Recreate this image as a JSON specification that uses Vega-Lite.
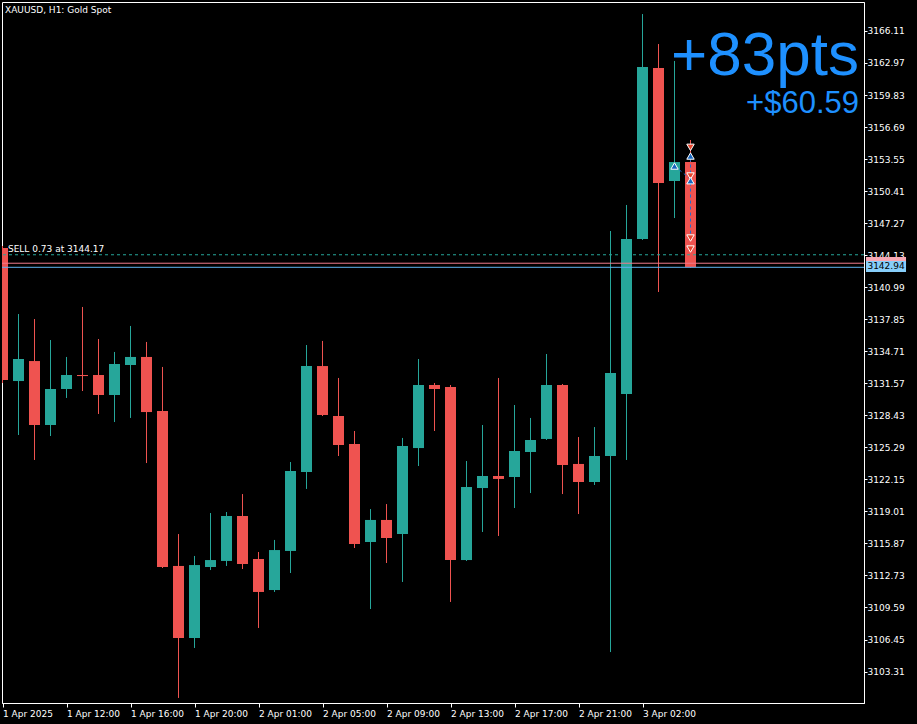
{
  "$schema": "https://vega.github.io/schema/vega-lite/v6.json",
  "autosize": "none",
  "width": 862,
  "height": 701,
  "padding": {"left": 2, "top": 2, "right": 53, "bottom": 21},
  "background": "#000000",
  "config": {
    "view": {"stroke": "#FFFFFF", "strokeWidth": 1, "fill": "#000000"},
    "axis": {"labelFont": "DejaVu Sans", "labelFontSize": 9, "labelColor": "#FFFFFF", "tickColor": "#FFFFFF", "domainColor": "#FFFFFF", "grid": false, "title": null}
  },
  "datasets": {
    "candles": [
      {"i":0,"o":3144.83,"h":3145.03,"l":3131.60,"c":3131.89,"d":"down"},
      {"i":1,"o":3131.79,"h":3138.36,"l":3126.50,"c":3133.95,"d":"up"},
      {"i":2,"o":3133.75,"h":3137.87,"l":3124.05,"c":3127.48,"d":"down"},
      {"i":3,"o":3127.48,"h":3135.81,"l":3126.40,"c":3131.01,"d":"up"},
      {"i":4,"o":3131.01,"h":3134.15,"l":3130.13,"c":3132.38,"d":"up"},
      {"i":5,"o":3132.38,"h":3139.05,"l":3130.81,"c":3132.28,"d":"down"},
      {"i":6,"o":3132.38,"h":3135.91,"l":3128.56,"c":3130.42,"d":"down"},
      {"i":7,"o":3130.42,"h":3134.64,"l":3127.77,"c":3133.46,"d":"up"},
      {"i":8,"o":3133.36,"h":3137.19,"l":3128.17,"c":3134.15,"d":"up"},
      {"i":9,"o":3134.15,"h":3135.62,"l":3123.75,"c":3128.75,"d":"down"},
      {"i":10,"o":3128.85,"h":3133.17,"l":3113.46,"c":3113.56,"d":"down"},
      {"i":11,"o":3113.66,"h":3116.79,"l":3100.72,"c":3106.60,"d":"down"},
      {"i":12,"o":3106.60,"h":3114.64,"l":3105.62,"c":3113.75,"d":"up"},
      {"i":13,"o":3113.56,"h":3118.85,"l":3113.26,"c":3114.24,"d":"up"},
      {"i":14,"o":3114.15,"h":3118.95,"l":3113.66,"c":3118.56,"d":"up"},
      {"i":15,"o":3118.56,"h":3120.71,"l":3113.36,"c":3113.85,"d":"down"},
      {"i":16,"o":3114.34,"h":3115.03,"l":3107.58,"c":3111.11,"d":"down"},
      {"i":17,"o":3111.30,"h":3116.21,"l":3111.11,"c":3115.22,"d":"up"},
      {"i":18,"o":3115.13,"h":3123.85,"l":3112.97,"c":3122.97,"d":"up"},
      {"i":19,"o":3122.87,"h":3135.32,"l":3121.21,"c":3133.26,"d":"up"},
      {"i":20,"o":3133.26,"h":3135.72,"l":3128.36,"c":3128.46,"d":"down"},
      {"i":21,"o":3128.36,"h":3132.09,"l":3124.44,"c":3125.52,"d":"down"},
      {"i":22,"o":3125.62,"h":3126.89,"l":3115.42,"c":3115.81,"d":"down"},
      {"i":23,"o":3116.01,"h":3119.24,"l":3109.44,"c":3118.17,"d":"up"},
      {"i":24,"o":3118.17,"h":3119.73,"l":3113.95,"c":3116.40,"d":"down"},
      {"i":25,"o":3116.79,"h":3126.21,"l":3112.09,"c":3125.42,"d":"up"},
      {"i":26,"o":3125.22,"h":3133.95,"l":3123.46,"c":3131.40,"d":"up"},
      {"i":27,"o":3131.40,"h":3131.60,"l":3126.89,"c":3131.01,"d":"down"},
      {"i":28,"o":3131.21,"h":3131.40,"l":3110.13,"c":3114.24,"d":"down"},
      {"i":29,"o":3114.24,"h":3123.95,"l":3114.15,"c":3121.40,"d":"up"},
      {"i":30,"o":3121.30,"h":3127.48,"l":3116.99,"c":3122.48,"d":"up"},
      {"i":31,"o":3122.48,"h":3132.09,"l":3116.60,"c":3122.19,"d":"down"},
      {"i":32,"o":3122.38,"h":3129.44,"l":3119.34,"c":3124.93,"d":"up"},
      {"i":33,"o":3124.83,"h":3128.17,"l":3120.81,"c":3126.01,"d":"up"},
      {"i":34,"o":3126.11,"h":3134.44,"l":3126.01,"c":3131.40,"d":"up"},
      {"i":35,"o":3131.40,"h":3131.50,"l":3120.71,"c":3123.56,"d":"down"},
      {"i":36,"o":3123.66,"h":3126.30,"l":3118.75,"c":3121.89,"d":"down"},
      {"i":37,"o":3121.89,"h":3127.28,"l":3121.60,"c":3124.44,"d":"up"},
      {"i":38,"o":3124.44,"h":3146.50,"l":3105.22,"c":3132.58,"d":"up"},
      {"i":39,"o":3130.52,"h":3149.05,"l":3124.05,"c":3145.71,"d":"up"},
      {"i":40,"o":3145.71,"h":3167.77,"l":3145.62,"c":3162.58,"d":"up"},
      {"i":41,"o":3162.48,"h":3164.83,"l":3140.52,"c":3151.20,"d":"down"},
      {"i":42,"o":3151.40,"h":3163.17,"l":3147.77,"c":3153.26,"d":"up"},
      {"i":43,"o":3153.26,"h":3155.42,"l":3142.90,"c":3142.94,"d":"down"}
    ],
    "trades": [
      {"i":43,"p":3154.70,"k":"sell"},
      {"i":43,"p":3153.85,"k":"buy"},
      {"i":42,"p":3152.87,"k":"buy"},
      {"i":43,"p":3151.89,"k":"sell"},
      {"i":43,"p":3151.43,"k":"buy"},
      {"i":43,"p":3145.81,"k":"sell"},
      {"i":43,"p":3144.73,"k":"sell"}
    ],
    "links": [
      {"i1":42,"p1":3152.87,"i2":43,"p2":3151.60},
      {"i1":43,"p1":3153.60,"i2":43,"p2":3146.00}
    ],
    "one": [{}]
  },
  "layer": [
    {
      "data": {"name": "candles"},
      "mark": {"type": "rule", "strokeWidth": 1, "clip": true},
      "encoding": {
        "x": {"field": "i", "type": "quantitative", "scale": {"domain": [-0.03125, 53.84375], "nice": false, "zero": false, "padding": 0},
          "axis": {"orient": "bottom", "values": [0,4,8,12,16,20,24,28,32,36,40], "tickCount": 30, "labelExpr": "['1 Apr 2025','1 Apr 12:00','1 Apr 16:00','1 Apr 20:00','2 Apr 01:00','2 Apr 05:00','2 Apr 09:00','2 Apr 13:00','2 Apr 17:00','2 Apr 21:00','3 Apr 02:00'][round(datum.value/4)]", "labelAlign": "left", "labelBaseline": "top", "labelPadding": 2, "tickSize": 4, "labelFlush": false, "labelOverlap": false, "labelBound": false}},
        "y": {"field": "l", "type": "quantitative", "scale": {"domain": [3100.225, 3168.95], "nice": false, "zero": false, "padding": 0},
          "axis": {"orient": "right", "values": [3103.31,3106.45,3109.59,3112.73,3115.87,3119.01,3122.15,3125.29,3128.43,3131.57,3134.71,3137.85,3140.99,3144.13,3147.27,3150.41,3153.55,3156.69,3159.83,3162.97,3166.11], "tickCount": 40, "format": ".2f", "tickSize": 3, "labelPadding": 0, "labelOverlap": false, "labelFlush": false}},
        "y2": {"field": "h"},
        "color": {"field": "d", "type": "nominal", "scale": {"domain": ["up","down"], "range": ["#26A69A","#EF5350"]}, "legend": null}
      }
    },
    {
      "data": {"name": "candles"},
      "mark": {"type": "bar", "width": 11, "clip": true},
      "encoding": {
        "x": {"field": "i", "type": "quantitative"},
        "y": {"field": "o", "type": "quantitative"},
        "y2": {"field": "c"},
        "color": {"field": "d", "type": "nominal", "legend": null}
      }
    },
    {
      "data": {"name": "one"},
      "mark": {"type": "rule", "color": "#26A69A", "strokeDash": [3,3], "strokeWidth": 1},
      "encoding": {"y": {"datum": 3144.17, "type": "quantitative"}}
    },
    {
      "data": {"name": "one"},
      "mark": {"type": "rule", "color": "#F07C8C", "strokeWidth": 1},
      "encoding": {"y": {"datum": 3143.34, "type": "quantitative"}}
    },
    {
      "data": {"name": "one"},
      "mark": {"type": "rule", "color": "#5FB4F0", "strokeWidth": 1},
      "encoding": {"y": {"datum": 3142.94, "type": "quantitative"}}
    },
    {
      "data": {"name": "links"},
      "mark": {"type": "rule", "color": "#1E6FD0", "strokeDash": [3,3], "strokeWidth": 1},
      "encoding": {
        "x": {"field": "i1", "type": "quantitative"},
        "y": {"field": "p1", "type": "quantitative"},
        "x2": {"field": "i2"},
        "y2": {"field": "p2"}
      }
    },
    {
      "data": {"name": "trades"},
      "transform": [{"filter": "datum.k == 'sell'"}],
      "mark": {"type": "point", "shape": "triangle-down", "filled": true, "size": 55, "color": "#E8452C", "stroke": "#FFFFFF", "strokeWidth": 1, "opacity": 1},
      "encoding": {
        "x": {"field": "i", "type": "quantitative"},
        "y": {"field": "p", "type": "quantitative"}
      }
    },
    {
      "data": {"name": "trades"},
      "transform": [{"filter": "datum.k == 'buy'"}],
      "mark": {"type": "point", "shape": "triangle-up", "filled": true, "size": 55, "color": "#1565C0", "stroke": "#FFFFFF", "strokeWidth": 1, "opacity": 1},
      "encoding": {
        "x": {"field": "i", "type": "quantitative"},
        "y": {"field": "p", "type": "quantitative"}
      }
    },
    {
      "data": {"name": "one"},
      "mark": {"type": "text", "text": "XAUUSD, H1:  Gold Spot", "font": "DejaVu Sans", "fontSize": 9, "color": "#FFFFFF", "align": "left", "baseline": "alphabetic"},
      "encoding": {"x": {"datum": 0.156, "type": "quantitative"}, "y": {"datum": 3167.87, "type": "quantitative"}}
    },
    {
      "data": {"name": "one"},
      "mark": {"type": "text", "text": "SELL 0.73 at 3144.17", "font": "DejaVu Sans", "fontSize": 9, "color": "#FFFFFF", "align": "left", "baseline": "alphabetic", "dy": -3},
      "encoding": {"x": {"datum": 0.34, "type": "quantitative"}, "y": {"datum": 3144.17, "type": "quantitative"}}
    },
    {
      "data": {"name": "one"},
      "mark": {"type": "text", "text": "+83pts", "font": "Liberation Sans", "fontSize": 62, "color": "#1E90FF", "align": "right", "baseline": "alphabetic"},
      "encoding": {"x": {"datum": 53.53, "type": "quantitative"}, "y": {"datum": 3161.80, "type": "quantitative"}}
    },
    {
      "data": {"name": "one"},
      "mark": {"type": "text", "text": "+$60.59", "font": "Liberation Sans", "fontSize": 31, "color": "#1E90FF", "align": "right", "baseline": "alphabetic"},
      "encoding": {"x": {"datum": 53.53, "type": "quantitative"}, "y": {"datum": 3158.07, "type": "quantitative"}}
    },
    {
      "data": {"name": "one"},
      "mark": {"type": "rect", "color": "#F7A8B4"},
      "encoding": {"x": {"datum": 53.97, "type": "quantitative"}, "x2": {"datum": 56.47}, "y": {"datum": 3143.95, "type": "quantitative"}, "y2": {"datum": 3142.87}}
    },
    {
      "data": {"name": "one"},
      "mark": {"type": "rect", "color": "#87CEFA"},
      "encoding": {"x": {"datum": 53.97, "type": "quantitative"}, "x2": {"datum": 56.47}, "y": {"datum": 3143.56, "type": "quantitative"}, "y2": {"datum": 3142.48}}
    },
    {
      "data": {"name": "one"},
      "mark": {"type": "text", "text": "3142.94", "font": "DejaVu Sans", "fontSize": 9, "color": "#000000", "align": "center", "baseline": "middle"},
      "encoding": {"x": {"datum": 55.22, "type": "quantitative"}, "y": {"datum": 3143.02, "type": "quantitative"}}
    }
  ]
}
